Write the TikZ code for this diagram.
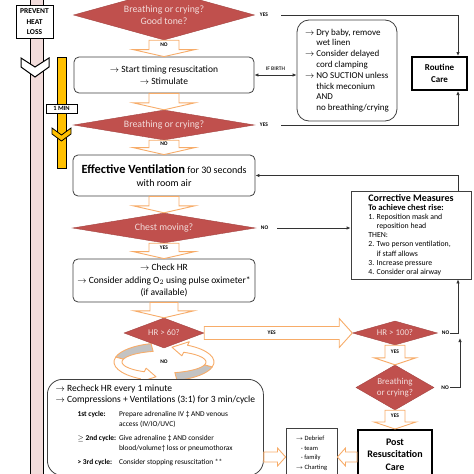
\documentclass[tikz,border=0pt]{standalone}
\usepackage{fontspec}
\setmainfont{Carlito}
\usetikzlibrary{calc,positioning,shapes.geometric,arrows.meta}

\definecolor{qred}{RGB}{192,80,77}
\definecolor{qtext}{RGB}{242,220,219}
\definecolor{barpink}{RGB}{242,220,219}
\definecolor{bargold}{RGB}{255,192,0}
\definecolor{flowline}{RGB}{247,172,105}
\definecolor{loopgray}{RGB}{195,195,195}

\newcommand{\nxt}{$\rightarrow$\ }
\newcommand{\flowind}{\hphantom{$\rightarrow$\ }}

% hollow block arrow pointing down, from #1 to #2
\newcommand{\downflow}[5]{%
  \draw[flow] let \p1=(#1), \p2=(#2) in
    (\x1-#4,\y1) -- (\x1+#4,\y1) -- (\x1+#4,\y2+7pt) -- (\x1+#5,\y2+7pt)
    -- (\x1,\y2) -- (\x1-#5,\y2+7pt) -- (\x1-#4,\y2+7pt) -- cycle
    node[flowlabel] at (\x1,{(\y1+\y2+7pt)/2}) {#3};}

% hollow block arrow pointing left or right
\newcommand{\sideflow}[5]{%
  \draw[flow] let \p1=(#1), \p2=(#2), \n1={(\x2-\x1)/abs(\x2-\x1)*0.9*#5} in
    (\x1,\y1-#4) -- (\x2-\n1,\y1-#4) -- (\x2-\n1,\y1-#5) -- (\x2,\y1)
    -- (\x2-\n1,\y1+#5) -- (\x2-\n1,\y1+#4) -- (\x1,\y1+#4) -- cycle
    node[flowlabel] at ({(\x1+\x2-\n1)/2},\y1) {#3};}

\begin{document}
\begin{tikzpicture}[
  x=1pt, y=-1pt,
  font=\fontsize{9.5}{11.5}\selectfont,
  qbox/.style={diamond, draw=qred!85!black, fill=qred, text=qtext, inner sep=0pt, align=center},
  stepbox/.style={rectangle, rounded corners=5pt, draw=black!75, line width=0.8pt, fill=white, align=center, inner sep=2pt},
  endbox/.style={rectangle, draw=black, line width=2pt, fill=white, align=center, font=\fontsize{9}{12}\selectfont\bfseries},
  sidebox/.style={rectangle, draw=black!75, line width=0.8pt, fill=white, align=left},
  tagbox/.style={rectangle, draw=black, line width=1pt, fill=white, align=center, inner sep=0pt},
  flow/.style={draw=flowline, fill=white, line width=0.9pt},
  flowlabel/.style={font=\fontsize{5.5}{6}\selectfont\bfseries, inner sep=0pt},
  lbl/.style={font=\fontsize{5.5}{6}\selectfont\bfseries, inner sep=1pt},
  arrow/.style={-{Latex[length=4pt,width=3.5pt]}, line width=0.8pt, black!80},
  loopband/.style={draw=flowline, line width=0.9pt, line join=round}
]
\useasboundingbox (0,0) rectangle (474,474);

% timeline bars on the left
\draw[line width=1pt, fill=barpink] (30,-5) rectangle (43,480);
\draw[line width=1pt, fill=white] (21,58) -- (35,67) -- (49,58) -- (49,67) -- (35,77) -- (21,67) -- cycle;
\node[tagbox, minimum width=37pt, minimum height=33pt, font=\fontsize{7.5}{10.5}\selectfont\bfseries] (heat) at (34.5,22) {PREVENT\\HEAT\\LOSS};
\draw[line width=0.8pt, fill=bargold] (57,57) rectangle (66,168);
\draw[line width=0.8pt, fill=bargold] (52,128) -- (61.5,135) -- (71,128) -- (71,134) -- (61.5,141) -- (52,134) -- cycle;
\node[tagbox, minimum width=31pt, minimum height=9pt, font=\fontsize{6.5}{7}\selectfont\bfseries] (onemin) at (61.5,108.5) {1 MIN};

% main column
\node[qbox, minimum width=181pt, minimum height=50pt, aspect=3.6, font=\fontsize{9.8}{12}\selectfont] (q1) at (164,15) {Breathing or crying?\\Good tone?};
\node[stepbox, minimum width=180pt, minimum height=36pt] (s1) at (164,75) {\nxt Start timing resuscitation\\\nxt Stimulate};
\node[qbox, minimum width=181pt, minimum height=30pt, aspect=6, font=\fontsize{9.8}{12}\selectfont] (q2) at (164,125) {Breathing or crying?};
\node[stepbox, minimum width=182pt, minimum height=41pt, font=\fontsize{10}{13}\selectfont] (ev) at (164,175.5)
  {{\fontsize{12.5}{13}\selectfont\bfseries Effective Ventilation} for 30 seconds\\with room air};
\node[qbox, minimum width=183pt, minimum height=30pt, aspect=6, font=\fontsize{9.8}{12}\selectfont] (q3) at (164,228) {Chest moving?};
\node[stepbox, minimum width=182pt, minimum height=43pt, font=\fontsize{9.5}{12.5}\selectfont] (hr) at (164,280.5)
  {\nxt Check HR\\\nxt Consider adding O$_2$ using pulse oximeter*\\(if available)};

% loop round HR > 60
\coordinate (loopc) at (164,362);
\draw[loopband, fill=loopgray] ($(loopc)+(255:50 and 19)$) arc[start angle=255, end angle=195, x radius=50, y radius=19]
  -- ($(loopc)+(195:42 and 11)$) arc[start angle=195, end angle=255, x radius=42, y radius=11] -- cycle;
\draw[loopband, fill=white] ($(loopc)+(195:50 and 19)$) arc[start angle=195, end angle=118, x radius=50, y radius=19]
  -- ($(loopc)+(118:54 and 23)$) -- ($(loopc)+(100:46 and 15)$) -- ($(loopc)+(118:38 and 7)$)
  -- ($(loopc)+(118:42 and 11)$) arc[start angle=118, end angle=195, x radius=42, y radius=11] -- cycle;
\draw[loopband, fill=loopgray] ($(loopc)+(75:50 and 19)$) arc[start angle=75, end angle=15, x radius=50, y radius=19]
  -- ($(loopc)+(15:42 and 11)$) arc[start angle=15, end angle=75, x radius=42, y radius=11] -- cycle;
\draw[loopband, fill=white] ($(loopc)+(15:50 and 19)$) arc[start angle=15, end angle=-62, x radius=50, y radius=19]
  -- ($(loopc)+(-62:54 and 23)$) -- ($(loopc)+(-80:46 and 15)$) -- ($(loopc)+(-62:38 and 7)$)
  -- ($(loopc)+(-62:42 and 11)$) arc[start angle=-62, end angle=15, x radius=42, y radius=11] -- cycle;
\node[lbl] (n4) at (loopc) {NO};

\node[qbox, minimum width=80pt, minimum height=30pt, aspect=2.7, font=\fontsize{8.8}{11}\selectfont] (q4) at (164,333) {HR > 60?};
\node[qbox, minimum width=85pt, minimum height=24pt, aspect=3.5, font=\fontsize{8.8}{11}\selectfont] (q5) at (395,333) {HR > 100?};
\node[qbox, minimum width=78pt, minimum height=45pt, aspect=1.75, font=\fontsize{9}{11}\selectfont] (q6) at (395,387.5) {Breathing\\or crying?};

\node[stepbox, rounded corners=15pt, anchor=north west, minimum width=216pt, inner sep=5pt, text depth=30pt, align=left,
      font=\fontsize{9.5}{11.5}\selectfont] (big) at (47,379)
  {\nxt Recheck HR every 1 minute\\
   \nxt Compressions + Ventilations (3:1) for 3 min/cycle\\[5pt]
   \hspace*{22pt}{\fontsize{7.4}{9.5}\selectfont\begin{tabular}{@{}l@{\hspace{3pt}}l@{}}
   \textbf{1st cycle:} & Prepare adrenaline IV \ddag\ AND venous\\
    & access (IV/IO/UVC)\\[5pt]
   \textbf{$\geq$ 2nd cycle:} & Give adrenaline \ddag\ AND consider\\
    & blood/volume\dag\ loss or pneumothorax\\[5pt]
   \textbf{> 3rd cycle:} & Consider stopping resuscitation **
   \end{tabular}}};

\node[endbox, anchor=north, minimum width=74pt, inner ysep=9pt, text depth=25pt, font=\fontsize{10}{12.5}\selectfont\bfseries] (post) at (395,429) {Post\\Resuscitation\\Care};
\node[sidebox, anchor=north, minimum width=51pt, inner ysep=8pt, text depth=25pt, font=\fontsize{6.5}{9.5}\selectfont] (db) at (311.5,428)
  {\nxt Debrief\\\hspace*{5pt}- team\\\hspace*{5pt}- family\\\nxt Charting};
\coordinate (dbmid) at ([yshift=-29pt]db.north);

% right-hand boxes
\node[endbox, minimum width=55pt, minimum height=33pt] (rc) at (439.5,73.5) {Routine\\Care};
\node[sidebox, rounded corners=12pt, minimum width=100pt, minimum height=101pt, font=\fontsize{9}{10.8}\selectfont] (dry) at (347,70.5)
  {\nxt Dry baby, remove\\\flowind wet linen\\\nxt Consider delayed\\\flowind cord clamping\\
   \nxt NO SUCTION unless\\\flowind thick meconium\\\flowind AND\\\flowind no breathing/crying};
\node[sidebox, minimum width=120pt, minimum height=88pt, inner xsep=4pt, inner ysep=2pt, font=\fontsize{7.8}{9.1}\selectfont] (cm) at (411,235)
  {{\fontsize{10}{11}\selectfont\bfseries Corrective Measures}\\
   {\fontsize{8.6}{10}\selectfont\bfseries To achieve chest rise:}\\
   1. Reposition mask and\\\hphantom{1. }reposition head\\THEN:\\
   2. Two person ventilation,\\\hphantom{2. }if staff allows\\
   3. Increase pressure\\4. Consider oral airway};

% thin connectors
\node[lbl, right=4pt of q1] (y1) {YES};
\draw[arrow] ([xshift=12pt]y1.east) -| ([xshift=18.5pt]rc.north);
\node[lbl, right=4pt of q2] (y2) {YES};
\draw[arrow] ([xshift=12pt]y2.east) -| ([xshift=18.5pt]rc.south);
\draw[{Latex[length=4pt,width=3.5pt]}-{Latex[length=4pt,width=3.5pt]}, line width=0.8pt, black!80]
  (s1.east) -- (s1.east -| dry.west) node[lbl, midway, above=3pt] (ifb) {IF BIRTH};
\node[lbl, right=4pt of q3] (n3) {NO};
\draw[arrow] ([xshift=8pt]n3.east) -- (n3.east -| cm.west);
\draw[arrow] ([xshift=47pt]cm.north) |- (ev.east);
\node[lbl, right=3pt of q5] (n5) {NO};
\draw[arrow] (n5.east) -| ([xshift=47pt]cm.south);
\node[lbl, right=6pt of q6] (n6) {NO};
\draw[arrow] (n6.east) -| ($(q5.east -| cm.south)+(49,5)$);

% block arrows
\downflow{q1.south}{s1.north}{NO}{15pt}{31pt}
\downflow{s1.south}{q2.north}{}{15pt}{31pt}
\downflow{q2.south}{ev.north}{NO}{15pt}{31pt}
\downflow{ev.south}{q3.north}{}{15pt}{31pt}
\downflow{q3.south}{hr.north}{YES}{15pt}{31pt}
\downflow{hr.south}{q4.north}{}{14pt}{30pt}
\downflow{q5.south}{q6.north}{YES}{10pt}{21pt}
\downflow{q6.south}{post.north}{YES}{10pt}{21pt}
\sideflow{q4.east}{q5.west}{YES}{6.5pt}{14.5pt}
\sideflow{big.east |- dbmid}{db.west}{}{5pt}{9pt}
\sideflow{post.west |- dbmid}{db.east}{}{5pt}{9pt}

\end{tikzpicture}
\end{document}
